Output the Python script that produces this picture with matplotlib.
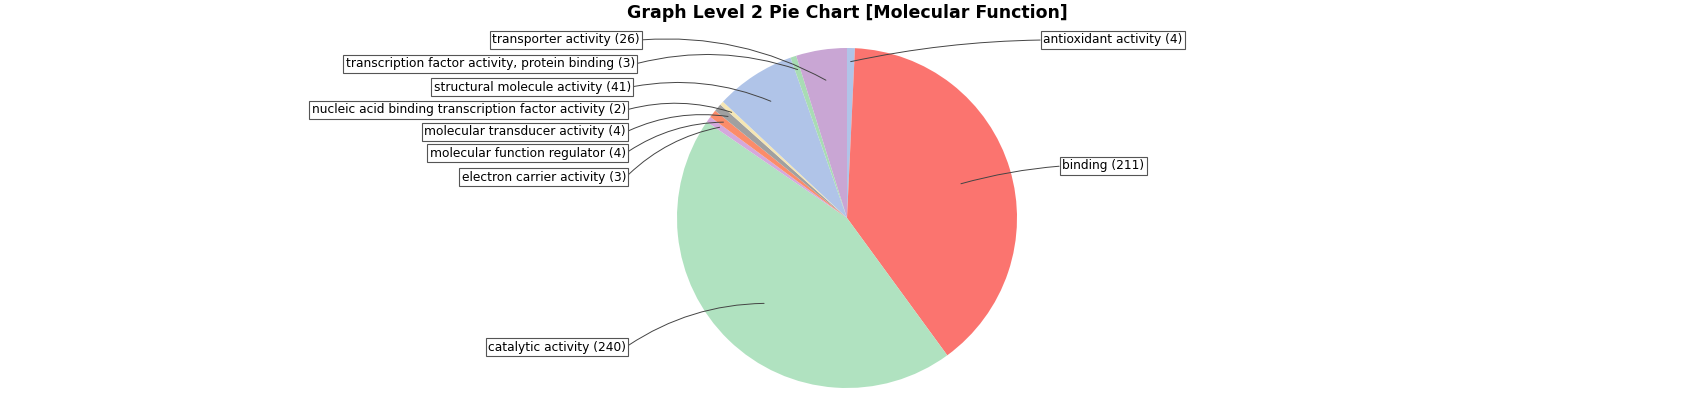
import matplotlib
matplotlib.use("Agg")
import matplotlib.pyplot as plt
import numpy as np

labels = ["antioxidant activity", "binding", "catalytic activity", "electron carrier activity",
          "molecular function regulator", "molecular transducer activity",
          "nucleic acid binding transcription factor activity", "structural molecule activity",
          "transcription factor activity, protein binding", "transporter activity"]
values = [4, 211, 240, 3, 4, 4, 2, 41, 3, 26]
colors = ["#b0c4e8", "#fb746f", "#b0e2c0", "#d4a8dc", "#fb8c6a", "#a0a0a0",
          "#f5e6b4", "#b0c4e8", "#a8dcb4", "#c9a6d4"]

W, H = 1684, 416
fig = plt.figure(figsize=(W/100, H/100), dpi=100)
cx, cy, R = 847, 218, 170
ax = fig.add_axes([(cx-R)/W, (H-cy-R)/H, 2*R/W, 2*R/H])
wedges, _ = ax.pie(values, colors=colors, startangle=90, counterclock=False, radius=1,
                   wedgeprops=dict(linewidth=0))
ax.set_xlim(-1, 1); ax.set_ylim(-1, 1); ax.set_aspect("equal"); ax.axis("off")

pos = {0: (1043, 40, "l"), 1: (1062, 166, "l"), 2: (626, 347, "r"), 3: (626, 177, "r"),
       4: (626, 153, "r"), 5: (626, 132, "r"), 6: (626, 110, "r"), 7: (631, 87, "r"),
       8: (635, 64, "r"), 9: (640, 40, "r")}
total = sum(values)
cum = 0
for i, (lab, v) in enumerate(zip(labels, values)):
    mid = 90 - 360 * (cum + v / 2) / total
    cum += v
    frac = v / total
    rr = 0.7 if frac > 0.1 else (0.82 if frac > 0.02 else 0.92)
    px, py, side = pos[i]
    tx, ty = (px - cx) / R, (cy - py) / R
    ax.annotate(f"{lab} ({v})", xy=(rr*np.cos(np.radians(mid)), rr*np.sin(np.radians(mid))),
                xytext=(tx, ty), textcoords="data", annotation_clip=False,
                ha="left" if side == "l" else "right", va="center", fontsize=8.8,
                bbox=dict(boxstyle="square,pad=0.2", fc="white", ec="#555555", lw=0.8),
                arrowprops=dict(arrowstyle="-", color="#444444", lw=0.7,
                                relpos=(0, 0.5) if side == "l" else (1, 0.5),
                                connectionstyle="arc3,rad=%s" % ("-0.15" if side == "r" else "0.05"),
                                shrinkA=0, shrinkB=0))

fig.text(cx/W, 1 - 13/H, "Graph Level 2 Pie Chart [Molecular Function]", ha="center", va="center",
         fontsize=12.5, fontweight="bold")
fig.savefig("out.png", dpi=100)
